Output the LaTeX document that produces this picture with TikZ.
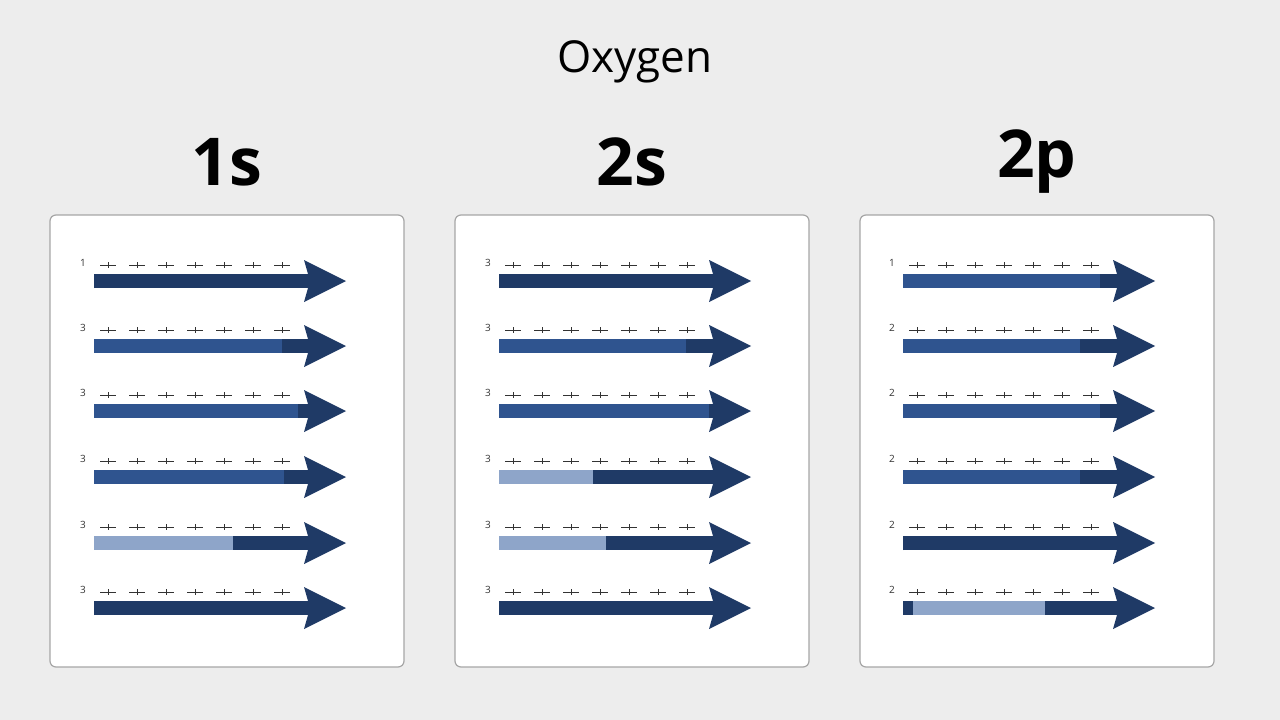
\documentclass[tikz,border=0pt]{standalone}
\usepackage{fontspec}
\setmainfont{Open Sans}
\usetikzlibrary{positioning}

\definecolor{darkbar}{HTML}{1F3A66}
\definecolor{midbar}{HTML}{2F548F}
\definecolor{lightbar}{HTML}{8EA5C9}
\definecolor{bggray}{HTML}{EDEDED}

% one row of a panel: x, y, label, first colour, split offset
\newcommand\orbrow[5]{%
    \fill[darkbar] (#1+44,#2-7) rectangle (#1+262,#2+7);
    \fill[darkbar] (#1+254,#2-21) -- (#1+296,#2) -- (#1+254,#2+21) -- (#1+260,#2) -- cycle;
    \fill[#4] (#1+44,#2-7) rectangle (#1+44+#5,#2+7);
    \node[lbl] at (#1+33,#2-18) {#3};
    \foreach \k in {0,...,6}
        \draw[tick] (#1+58+\k*29-8,#2-16) -- (#1+58+\k*29+8,#2-16)
                    (#1+58+\k*29,#2-19) -- (#1+58+\k*29,#2-13);
}

\begin{document}
\begin{tikzpicture}[
        x=1pt, y=-1pt,
        panel/.style = {draw=gray!70, fill=white, rounded corners=6pt, line width=1.2pt},
        lbl/.style = {font=\fontsize{10}{10}\selectfont, text=black!80, inner sep=0pt},
        tick/.style = {draw=black!80, line width=0.8pt},
        head/.style = {font=\fontsize{66}{66}\selectfont\bfseries}
    ]
    \fill[bggray] (0,0) rectangle (1280,720);
    \useasboundingbox (0,0) rectangle (1280,720);

    \node (title) at (635,62) {\fontsize{44}{44}\selectfont Oxygen};
    \node[head] (h1) at (227,162) {1s};
    \node[head] (h2) at (632,162) {2s};
    \node[head] (h3) at (1037,162) {2p};

    \node[panel, minimum width=354pt, minimum height=452pt] (p1) at (227,441) {};
    \node[panel, minimum width=354pt, minimum height=452pt] (p2) at (632,441) {};
    \node[panel, minimum width=354pt, minimum height=452pt] (p3) at (1037,441) {};

    % 1s
    \orbrow{50}{281}{1}{darkbar}{0}
    \orbrow{50}{346}{3}{midbar}{188}
    \orbrow{50}{411}{3}{midbar}{204}
    \orbrow{50}{477}{3}{midbar}{190}
    \orbrow{50}{543}{3}{lightbar}{139}
    \orbrow{50}{608}{3}{darkbar}{0}
    % 2s
    \orbrow{455}{281}{3}{darkbar}{0}
    \orbrow{455}{346}{3}{midbar}{187}
    \orbrow{455}{411}{3}{midbar}{210}
    \orbrow{455}{477}{3}{lightbar}{94}
    \orbrow{455}{543}{3}{lightbar}{107}
    \orbrow{455}{608}{3}{darkbar}{0}
    % 2p
    \orbrow{859}{281}{1}{midbar}{197}
    \orbrow{859}{346}{2}{midbar}{177}
    \orbrow{859}{411}{2}{midbar}{197}
    \orbrow{859}{477}{2}{midbar}{177}
    \orbrow{859}{543}{2}{darkbar}{0}
    \orbrow{859}{608}{2}{lightbar}{142}
    \fill[darkbar] (903,601) rectangle (913,615);
\end{tikzpicture}
\end{document}
